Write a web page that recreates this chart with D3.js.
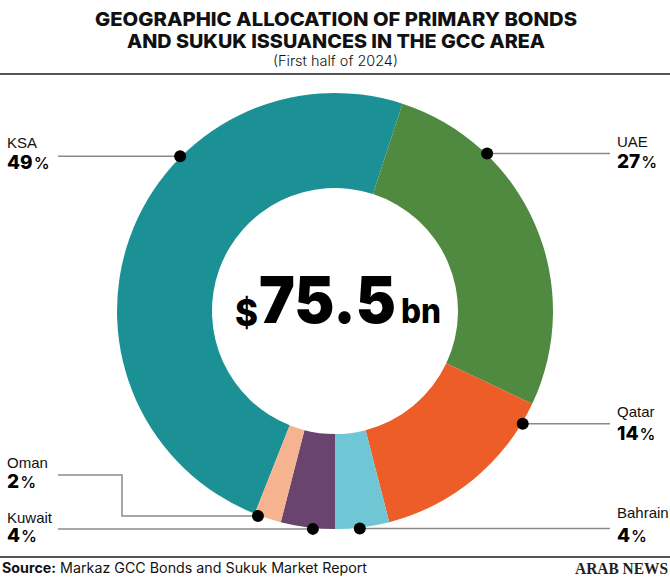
<!DOCTYPE html>
<html><head><meta charset="utf-8">
<script src="https://cdn.jsdelivr.net/npm/d3@7"></script>
<style>body{margin:0;background:#fff}svg{display:block}</style>
</head><body><svg id="c" width="670" height="581"></svg>
<script>
// ---- data ----
const categories = ["KSA", "UAE", "Qatar", "Bahrain", "Kuwait", "Oman"];
const shares = [49, 27, 14, 4, 4, 2];
const colors = ["#1b9095", "#508a41", "#ec5d28", "#6fc6d5", "#68446f", "#f6b38f"];
const totalParts = ["$", "75.5", "bn"];
const titleLines = ["GEOGRAPHIC ALLOCATION OF PRIMARY BONDS", "AND SUKUK ISSUANCES IN THE GCC AREA"];
const subtitle = "(First half of 2024)";
const sourceLabel = "Source:";
const sourceText = " Markaz GCC Bonds and Sukuk Market Report";
const brand = "ARAB NEWS";

// ---- layout (not data) ----
const W = 670, H = 581;
const cx = 335, cy = 311, R = 218, r0 = 123;
const deg = Math.PI / 180;
const startA = -158.4 * deg;
const dotAngle = {KSA: 315, UAE: 44, Qatar: 121, Bahrain: 173.5, Kuwait: 185.8, Oman: 200.6};
const labelY = {KSA: 154, UAE: 154, Qatar: 425, Bahrain: 528, Kuwait: 528, Oman: 475};
const side = {KSA: "L", UAE: "R", Qatar: "R", Bahrain: "R", Kuwait: "L", Oman: "L"};
const nameDy = {KSA: -6, UAE: -7, Qatar: -8, Bahrain: -10, Kuwait: -5, Oman: -7};
const valDy = {KSA: 15, UAE: 14, Qatar: 15, Bahrain: 14, Kuwait: 14, Oman: 13};

const svg = d3.select("#c");
svg.append("rect").attr("width", W).attr("height", H).attr("fill", "#fff");

// title
const tg = svg.append("g").attr("font-family", "Inter, 'Liberation Sans', sans-serif").attr("fill", "#111");
const titleW = [482, 418];
titleLines.forEach((t, i) => {
  tg.append("text").attr("x", 336 - titleW[i] / 2).attr("y", 26 + i * 22)
    .attr("font-size", 19).attr("font-weight", 800)
    .attr("textLength", titleW[i]).attr("lengthAdjust", "spacingAndGlyphs").text(t);
});
tg.append("text").attr("x", 273).attr("y", 66).attr("font-size", 14).attr("font-weight", 300)
  .attr("textLength", 125).attr("lengthAdjust", "spacingAndGlyphs").text(subtitle);

svg.append("line").attr("x1", 0).attr("x2", W).attr("y1", 74).attr("y2", 74)
  .attr("stroke", "#555").attr("stroke-width", 2);
svg.append("line").attr("x1", 0).attr("x2", W).attr("y1", 557).attr("y2", 557)
  .attr("stroke", "#555").attr("stroke-width", 2);

// donut
const pie = d3.pie().sort(null).value(d => d).startAngle(startA).endAngle(startA + 2 * Math.PI);
const arcs = pie(shares);
const arc = d3.arc().innerRadius(r0).outerRadius(R);
const color = d3.scaleOrdinal().domain(categories).range(colors);
const g = svg.append("g").attr("transform", `translate(${cx},${cy})`);
g.selectAll("path").data(arcs).join("path")
  .attr("d", arc).attr("fill", (d, i) => color(categories[i]));

// leaders
const lg = svg.append("g");
categories.forEach((c, i) => {
  const a = dotAngle[c] * deg;
  const dx = cx + (R + 1) * Math.sin(a), dy = cy - (R + 1) * Math.cos(a);
  const ly = labelY[c];
  let pts;
  if (side[c] === "L") {
    pts = Math.abs(ly - dy) > 3 ? [[58, ly], [122, ly], [122, dy], [dx, dy]] : [[58, dy], [dx, dy]];
  } else {
    pts = [[dx, dy], [610, dy]];
  }
  lg.append("path").attr("d", d3.line()(pts)).attr("fill", "none")
    .attr("stroke", "#8a8a8a").attr("stroke-width", 1.5);
  lg.append("circle").attr("cx", dx).attr("cy", dy).attr("r", 6).attr("fill", "#000");
  const tx = side[c] === "L" ? 7 : 617;
  lg.append("text").attr("x", tx).attr("y", ly + nameDy[c])
    .attr("font-family", "'Liberation Sans', Arial, sans-serif").attr("font-size", 15).attr("fill", "#111").text(c);
  const v = lg.append("text").attr("x", tx).attr("y", ly + valDy[c])
    .attr("font-family", "Inter, 'Liberation Sans', sans-serif").attr("fill", "#000");
  v.append("tspan").attr("font-size", 19).attr("font-weight", 800).text(shares[i]);
  v.append("tspan").attr("font-size", 16).attr("font-weight", 500).attr("dx", 1).text("%");
});

// center total
const ct = svg.append("g").attr("font-family", "Inter, 'Liberation Sans', sans-serif").attr("fill", "#000");
ct.append("text").attr("x", 235).attr("y", 326).attr("font-size", 37).attr("font-weight", 800)
  .attr("textLength", 23).attr("lengthAdjust", "spacingAndGlyphs").text(totalParts[0]);
ct.append("text").attr("x", 259).attr("y", 323).attr("font-size", 64).attr("font-weight", 900)
  .attr("textLength", 137).attr("lengthAdjust", "spacingAndGlyphs").text(totalParts[1]);
ct.append("text").attr("x", 401).attr("y", 323).attr("font-size", 34).attr("font-weight", 800)
  .attr("textLength", 40).attr("lengthAdjust", "spacingAndGlyphs").text(totalParts[2]);

// source
const st = svg.append("text").attr("x", 2).attr("y", 573)
  .attr("font-family", "Inter, 'Liberation Sans', sans-serif").attr("font-size", 14).attr("fill", "#111")
  .attr("textLength", 365).attr("lengthAdjust", "spacingAndGlyphs");
st.append("tspan").attr("font-weight", 700).text(sourceLabel);
st.append("tspan").attr("font-weight", 400).text(sourceText);

svg.append("text").attr("x", 575).attr("y", 574)
  .attr("font-family", "'Liberation Serif', 'DejaVu Serif', serif").attr("font-size", 16).attr("font-weight", 700)
  .attr("fill", "#222").attr("textLength", 93).attr("lengthAdjust", "spacingAndGlyphs").text(brand);
</script></body></html>
